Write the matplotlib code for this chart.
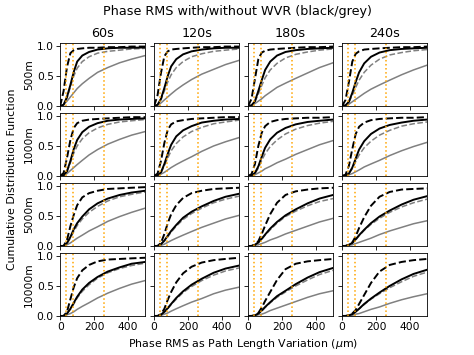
import numpy as np
import matplotlib
matplotlib.use("Agg")
import matplotlib.pyplot as plt

PATH_X = [0, 20, 40, 60, 80, 100, 130, 170, 220, 280, 350, 420, 500]

BASELINES = ["500m", "1000m", "5000m", "10000m"]
INTERVALS = ["60s", "120s", "180s", "240s"]

# orange reference lines (micron)
THRESHOLDS = [37, 76, 256]

# [baseline][interval] -> CDF values at PATH_X
WVR_DASHED = [
    [[0, 0.25, 0.65, 0.88, 0.93, 0.95, 0.96, 0.97, 0.97, 0.98, 0.98, 0.99, 0.99],
     [0, 0.18, 0.55, 0.83, 0.91, 0.94, 0.95, 0.96, 0.97, 0.98, 0.98, 0.99, 0.99],
     [0, 0.12, 0.45, 0.78, 0.89, 0.92, 0.94, 0.95, 0.96, 0.97, 0.98, 0.98, 0.99],
     [0, 0.10, 0.40, 0.74, 0.87, 0.91, 0.94, 0.95, 0.96, 0.97, 0.98, 0.98, 0.99]],
    [[0, 0.05, 0.30, 0.60, 0.80, 0.88, 0.92, 0.94, 0.95, 0.96, 0.97, 0.98, 0.98],
     [0, 0.04, 0.25, 0.55, 0.77, 0.86, 0.91, 0.93, 0.95, 0.96, 0.97, 0.98, 0.98],
     [0, 0.03, 0.20, 0.50, 0.72, 0.83, 0.90, 0.93, 0.95, 0.96, 0.97, 0.97, 0.98],
     [0, 0.02, 0.17, 0.45, 0.70, 0.82, 0.89, 0.93, 0.95, 0.96, 0.97, 0.97, 0.98]],
    [[0, 0.00, 0.10, 0.33, 0.52, 0.68, 0.81, 0.88, 0.92, 0.95, 0.96, 0.97, 0.98],
     [0, 0.00, 0.05, 0.20, 0.38, 0.53, 0.68, 0.80, 0.88, 0.92, 0.95, 0.96, 0.97],
     [0, 0.00, 0.02, 0.08, 0.20, 0.34, 0.53, 0.72, 0.85, 0.91, 0.94, 0.96, 0.97],
     [0, 0.00, 0.02, 0.06, 0.16, 0.30, 0.48, 0.67, 0.82, 0.90, 0.94, 0.95, 0.96]],
    [[0, 0.00, 0.07, 0.28, 0.48, 0.63, 0.76, 0.85, 0.91, 0.94, 0.95, 0.96, 0.97],
     [0, 0.00, 0.03, 0.12, 0.27, 0.40, 0.56, 0.71, 0.82, 0.89, 0.93, 0.95, 0.97],
     [0, 0.00, 0.01, 0.05, 0.14, 0.25, 0.40, 0.60, 0.78, 0.87, 0.91, 0.93, 0.95],
     [0, 0.00, 0.01, 0.04, 0.10, 0.20, 0.35, 0.55, 0.74, 0.85, 0.90, 0.93, 0.95]],
]

WVR_SOLID = [
    [[0, 0.02, 0.15, 0.35, 0.57, 0.74, 0.84, 0.90, 0.94, 0.96, 0.97, 0.97, 0.975],
     [0, 0.02, 0.12, 0.30, 0.50, 0.66, 0.78, 0.86, 0.91, 0.94, 0.96, 0.97, 0.97],
     [0, 0.01, 0.08, 0.25, 0.43, 0.60, 0.74, 0.84, 0.90, 0.93, 0.95, 0.96, 0.97],
     [0, 0.01, 0.07, 0.22, 0.40, 0.56, 0.71, 0.82, 0.89, 0.93, 0.95, 0.96, 0.97]],
    [[0, 0.01, 0.08, 0.25, 0.45, 0.60, 0.73, 0.82, 0.88, 0.92, 0.94, 0.95, 0.96],
     [0, 0.01, 0.06, 0.20, 0.37, 0.52, 0.66, 0.76, 0.83, 0.89, 0.92, 0.94, 0.95],
     [0, 0.01, 0.05, 0.16, 0.32, 0.47, 0.61, 0.72, 0.80, 0.86, 0.90, 0.92, 0.94],
     [0, 0.01, 0.04, 0.14, 0.29, 0.44, 0.58, 0.70, 0.79, 0.85, 0.89, 0.92, 0.94]],
    [[0, 0.00, 0.05, 0.15, 0.28, 0.38, 0.49, 0.61, 0.71, 0.79, 0.85, 0.89, 0.92],
     [0, 0.00, 0.03, 0.09, 0.17, 0.25, 0.35, 0.47, 0.57, 0.66, 0.75, 0.82, 0.87],
     [0, 0.00, 0.02, 0.06, 0.12, 0.19, 0.29, 0.40, 0.51, 0.61, 0.71, 0.79, 0.85],
     [0, 0.00, 0.02, 0.05, 0.11, 0.18, 0.27, 0.38, 0.49, 0.59, 0.69, 0.77, 0.83]],
    [[0, 0.00, 0.04, 0.12, 0.22, 0.32, 0.44, 0.55, 0.65, 0.74, 0.81, 0.87, 0.90],
     [0, 0.00, 0.02, 0.07, 0.13, 0.20, 0.30, 0.41, 0.52, 0.62, 0.72, 0.79, 0.84],
     [0, 0.00, 0.01, 0.04, 0.09, 0.15, 0.23, 0.33, 0.42, 0.53, 0.64, 0.73, 0.80],
     [0, 0.00, 0.01, 0.03, 0.07, 0.12, 0.20, 0.29, 0.39, 0.50, 0.61, 0.70, 0.77]],
]

NOWVR_DASHED = [
    [[0, 0.02, 0.13, 0.32, 0.50, 0.63, 0.74, 0.82, 0.88, 0.91, 0.93, 0.95, 0.96],
     [0, 0.02, 0.10, 0.25, 0.40, 0.52, 0.64, 0.74, 0.82, 0.87, 0.91, 0.93, 0.95],
     [0, 0.01, 0.07, 0.20, 0.34, 0.47, 0.60, 0.71, 0.80, 0.86, 0.90, 0.93, 0.95],
     [0, 0.01, 0.06, 0.18, 0.31, 0.43, 0.56, 0.68, 0.78, 0.85, 0.89, 0.92, 0.94]],
    [[0, 0.01, 0.07, 0.22, 0.38, 0.50, 0.62, 0.72, 0.80, 0.86, 0.90, 0.92, 0.94],
     [0, 0.01, 0.05, 0.17, 0.30, 0.42, 0.54, 0.65, 0.74, 0.81, 0.87, 0.90, 0.93],
     [0, 0.01, 0.04, 0.13, 0.26, 0.37, 0.49, 0.60, 0.70, 0.78, 0.84, 0.88, 0.91],
     [0, 0.01, 0.04, 0.12, 0.24, 0.35, 0.47, 0.58, 0.68, 0.76, 0.83, 0.87, 0.90]],
    [[0, 0.00, 0.04, 0.13, 0.24, 0.34, 0.45, 0.56, 0.66, 0.75, 0.82, 0.86, 0.90],
     [0, 0.00, 0.03, 0.08, 0.15, 0.23, 0.33, 0.44, 0.54, 0.63, 0.72, 0.78, 0.83],
     [0, 0.00, 0.02, 0.05, 0.11, 0.18, 0.27, 0.38, 0.49, 0.58, 0.67, 0.74, 0.79],
     [0, 0.00, 0.02, 0.05, 0.10, 0.17, 0.26, 0.36, 0.46, 0.56, 0.65, 0.72, 0.78]],
    [[0, 0.00, 0.04, 0.11, 0.20, 0.30, 0.41, 0.52, 0.63, 0.72, 0.79, 0.84, 0.88],
     [0, 0.00, 0.02, 0.06, 0.12, 0.19, 0.28, 0.39, 0.49, 0.59, 0.68, 0.75, 0.80],
     [0, 0.00, 0.01, 0.04, 0.08, 0.14, 0.22, 0.31, 0.40, 0.50, 0.60, 0.69, 0.76],
     [0, 0.00, 0.01, 0.03, 0.07, 0.12, 0.19, 0.28, 0.37, 0.47, 0.57, 0.66, 0.73]],
]

NOWVR_SOLID = [
    [[0, 0.02, 0.08, 0.15, 0.22, 0.29, 0.37, 0.46, 0.56, 0.64, 0.72, 0.78, 0.84],
     [0, 0.01, 0.05, 0.10, 0.15, 0.20, 0.27, 0.35, 0.44, 0.53, 0.61, 0.69, 0.76],
     [0, 0.01, 0.04, 0.08, 0.12, 0.17, 0.23, 0.31, 0.38, 0.46, 0.55, 0.64, 0.72],
     [0, 0.01, 0.03, 0.07, 0.11, 0.15, 0.21, 0.28, 0.35, 0.43, 0.52, 0.60, 0.68]],
    [[0, 0.01, 0.04, 0.09, 0.14, 0.19, 0.26, 0.35, 0.44, 0.53, 0.61, 0.68, 0.74],
     [0, 0.01, 0.03, 0.06, 0.10, 0.14, 0.19, 0.25, 0.32, 0.41, 0.50, 0.57, 0.64],
     [0, 0.00, 0.02, 0.05, 0.08, 0.12, 0.16, 0.22, 0.28, 0.36, 0.44, 0.52, 0.59],
     [0, 0.00, 0.02, 0.04, 0.07, 0.10, 0.15, 0.20, 0.26, 0.34, 0.42, 0.49, 0.56]],
    [[0, 0.00, 0.02, 0.05, 0.09, 0.13, 0.18, 0.25, 0.32, 0.41, 0.49, 0.56, 0.63],
     [0, 0.00, 0.01, 0.03, 0.06, 0.09, 0.13, 0.18, 0.24, 0.31, 0.38, 0.45, 0.51],
     [0, 0.00, 0.01, 0.02, 0.04, 0.06, 0.10, 0.14, 0.20, 0.26, 0.33, 0.40, 0.46],
     [0, 0.00, 0.01, 0.02, 0.04, 0.06, 0.09, 0.13, 0.19, 0.25, 0.31, 0.37, 0.42]],
    [[0, 0.00, 0.02, 0.04, 0.07, 0.11, 0.16, 0.22, 0.30, 0.38, 0.46, 0.53, 0.59],
     [0, 0.00, 0.01, 0.03, 0.05, 0.08, 0.12, 0.17, 0.23, 0.29, 0.37, 0.43, 0.48],
     [0, 0.00, 0.00, 0.02, 0.03, 0.05, 0.09, 0.13, 0.18, 0.24, 0.31, 0.37, 0.42],
     [0, 0.00, 0.00, 0.01, 0.03, 0.04, 0.07, 0.11, 0.15, 0.21, 0.27, 0.32, 0.37]],
]

plt.rcParams["font.size"] = 7.7

fig, axes = plt.subplots(4, 4, figsize=(4.74, 3.55), dpi=100, sharex=True, sharey=True)
fig.subplots_adjust(left=0.127, right=0.901, top=0.879, bottom=0.110,
                    wspace=0.106, hspace=0.111)

for i, baseline in enumerate(BASELINES):
    for j, interval in enumerate(INTERVALS):
        ax = axes[i, j]
        ax.plot(PATH_X, NOWVR_SOLID[i][j], color="grey", lw=1.1)
        ax.plot(PATH_X, NOWVR_DASHED[i][j], color="grey", ls="--", lw=1.1)
        ax.plot(PATH_X, WVR_SOLID[i][j], color="black", lw=1.4)
        ax.plot(PATH_X, WVR_DASHED[i][j], color="black", ls="--", lw=1.4)
        for t in THRESHOLDS:
            ax.axvline(t, color="orange", ls=":", lw=1.1)
        ax.set_xlim(0, 500)
        ax.set_ylim(0, 1.05)
        ax.set_xticks([0, 200, 400])
        ax.set_yticks([0, 0.5, 1.0])
        ax.tick_params(length=2.6, width=0.6, pad=2)
        for s in ax.spines.values():
            s.set_linewidth(0.6)
        if i == 0:
            ax.set_title(interval, fontsize=9.2, pad=4)
        if j == 0:
            ax.set_ylabel(baseline, fontsize=7.7, labelpad=2)

fig.suptitle("Phase RMS with/without WVR (black/grey)", fontsize=9.2, y=0.985)
fig.text(0.512, 0.031, r"Phase RMS as Path Length Variation ($\mu$m)",
         ha="center", va="center", fontsize=7.9)
fig.text(0.025, 0.494, "Cumulative Distribution Function", rotation=90,
         ha="center", va="center", fontsize=7.9)

fig.savefig("out.png", dpi=100)
